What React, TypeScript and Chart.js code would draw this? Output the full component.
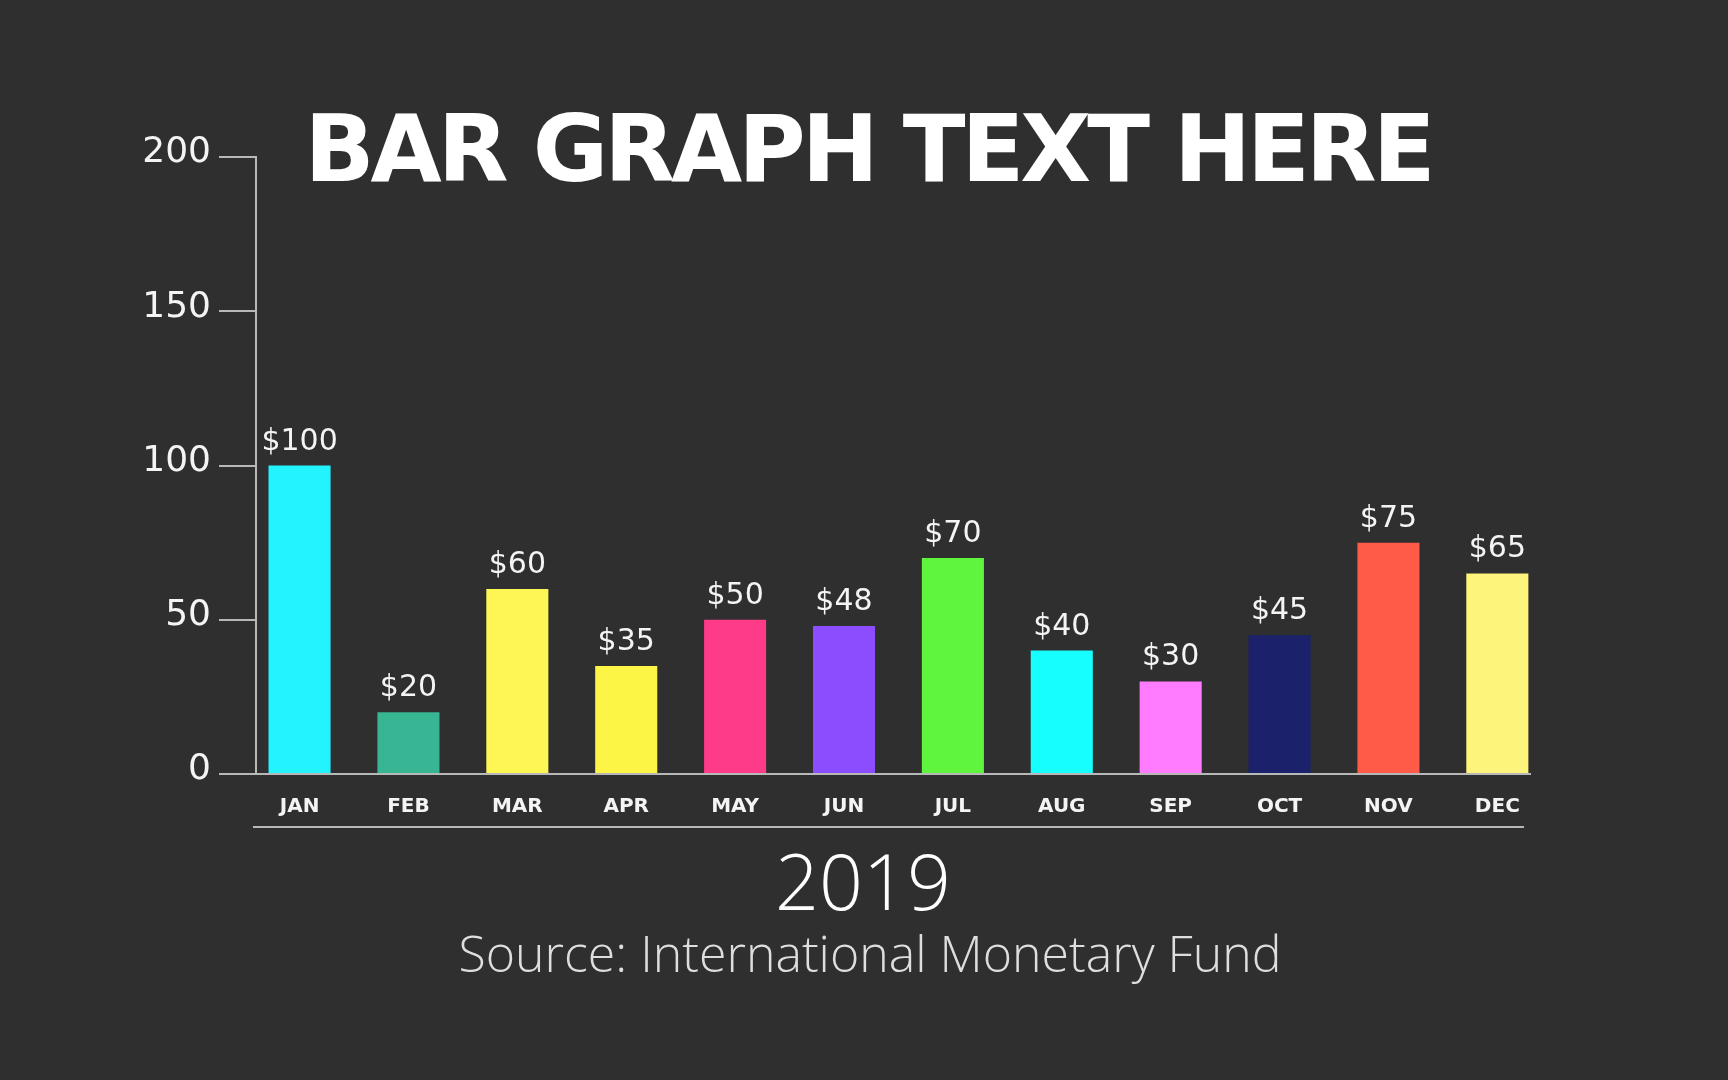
import React, { useEffect, useRef } from "react";
import { Chart, registerables } from "chart.js";

Chart.register(...registerables);

const months = ["JAN", "FEB", "MAR", "APR", "MAY", "JUN", "JUL", "AUG", "SEP", "OCT", "NOV", "DEC"];
const values = [100, 20, 60, 35, 50, 48, 70, 40, 30, 45, 75, 65];
const barColors = [
  "#22f3ff", "#38b593", "#fdf655", "#fdf545", "#fd3b88", "#8b4dfe",
  "#5ff53e", "#17fefe", "#ff7bff", "#1b216b", "#ff5b48", "#fdf57b",
];
const yTicks = [0, 50, 100, 150, 200];
const titleText = "BAR GRAPH TEXT HERE";
const yearText = "2019";
const sourceText = "Source: International Monetary Fund";

const AXIS_COLOR = "#b8b8b8";
const TEXT_COLOR = "#f4f4f4";

export default function App() {
  const ref = useRef<HTMLCanvasElement | null>(null);

  useEffect(() => {
    if (!ref.current) return;

    const valueLabels = {
      id: "valueLabels",
      afterDatasetsDraw(chart: any) {
        const ctx = chart.ctx;
        const meta = chart.getDatasetMeta(0);
        ctx.save();
        ctx.font = '30px "DejaVu Sans"';
        ctx.fillStyle = TEXT_COLOR;
        ctx.textAlign = "center";
        ctx.textBaseline = "alphabetic";
        meta.data.forEach((bar: any, i: number) => {
          ctx.fillText("$" + values[i], bar.x, bar.y - 16);
        });
        ctx.restore();
      },
    };

    const underline = {
      id: "underline",
      afterDraw(chart: any) {
        const { ctx, chartArea } = chart;
        ctx.save();
        ctx.strokeStyle = AXIS_COLOR;
        ctx.lineWidth = 2;
        ctx.beginPath();
        ctx.moveTo(chartArea.left - 3, chartArea.bottom + 53);
        ctx.lineTo(chartArea.right - 6, chartArea.bottom + 53);
        ctx.stroke();
        ctx.restore();
      },
    };

    const chart = new Chart(ref.current, {
      type: "bar",
      data: {
        datasets: [
          {
            data: values.map((v, i) => ({ x: i, y: v })),
            backgroundColor: barColors,
            borderWidth: 0,
            barPercentage: 0.57,
            categoryPercentage: 1,
          },
        ],
      },
      options: {
        responsive: false,
        animation: false,
        layout: { padding: { left: 0, top: 157, right: 198, bottom: 246 } },
        plugins: {
          legend: { display: false },
          tooltip: { enabled: false },
        },
        scales: {
          x: {
            type: "linear",
            offset: false,
            min: -0.4,
            max: 11.3,
            grid: { display: false, drawTicks: false, tickLength: 0, offset: false },
            border: { display: true, color: AXIS_COLOR, width: 2 },
            afterBuildTicks: (s: any) => {
              s.ticks = months.map((_, i) => ({ value: i }));
            },
            afterFit: (s: any) => {
              s.height = 60;
            },
            ticks: {
              autoSkip: false,
              maxRotation: 0,
              padding: 21,
              color: TEXT_COLOR,
              font: { family: "DejaVu Sans", size: 20, weight: "bold" },
              callback: (v: any) => months[v as number] ?? "",
            },
          },
          y: {
            min: 0,
            max: 200,
            afterBuildTicks: (s: any) => {
              s.ticks = yTicks.map((v) => ({ value: v }));
            },
            afterFit: (s: any) => {
              s.width = 256;
            },
            grid: {
              drawOnChartArea: false,
              drawTicks: true,
              tickLength: 37,
              color: AXIS_COLOR,
              lineWidth: 2,
            },
            border: { display: true, color: AXIS_COLOR, width: 2 },
            ticks: {
              padding: 8,
              labelOffset: -4,
              color: TEXT_COLOR,
              font: { family: "DejaVu Sans", size: 36 },
            },
          },
        },
      },
      plugins: [valueLabels, underline],
    } as any);

    return () => chart.destroy();
  }, []);

  return (
    <div
      style={{
        position: "fixed",
        left: 0,
        top: 0,
        width: 1728,
        height: 1080,
        background: "#2e2f2e",
        overflow: "hidden",
      }}
    >
      <canvas ref={ref} width={1728} height={1080} style={{ position: "absolute", left: 0, top: 0 }} />
      <div
        style={{
          position: "absolute",
          left: 4,
          top: 104,
          width: 1728,
          textAlign: "center",
          fontFamily: '"DejaVu Sans"',
          fontWeight: "bold",
          fontSize: 92,
          lineHeight: "92px",
          letterSpacing: "-4px",
          color: "#ffffff",
          whiteSpace: "nowrap",
        }}
      >
        {titleText}
      </div>
      <div
        style={{
          position: "absolute",
          left: -1,
          top: 842,
          width: 1728,
          textAlign: "center",
          fontFamily: '"Open Sans"',
          fontWeight: 300,
          fontSize: 77,
          lineHeight: "77px",
          color: "#ffffff",
          whiteSpace: "nowrap",
        }}
      >
        {yearText}
      </div>
      <div
        style={{
          position: "absolute",
          left: 6,
          top: 928,
          width: 1728,
          textAlign: "center",
          fontFamily: '"Open Sans"',
          fontWeight: 300,
          fontSize: 50,
          lineHeight: "50px",
          color: "#dedede",
          whiteSpace: "nowrap",
        }}
      >
        {sourceText}
      </div>
    </div>
  );
}
